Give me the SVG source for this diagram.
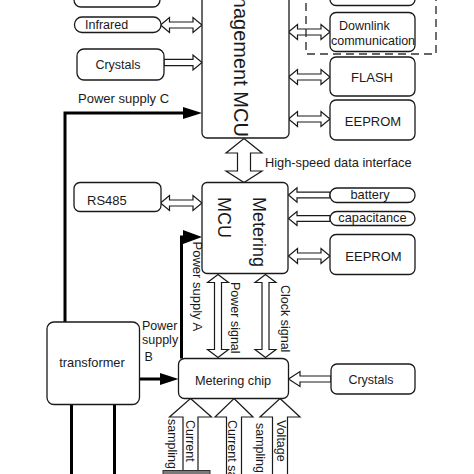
<svg xmlns="http://www.w3.org/2000/svg" xmlns:xlink="http://www.w3.org/1999/xlink" width="474" height="474" viewBox="0 0 474 474">
<style>
.box{fill:#fff;stroke:#1a1a1a;stroke-width:1.3}
.dash{fill:none;stroke:#333;stroke-width:1.4;stroke-dasharray:8 5}
.ha{fill:#fff;stroke:#1a1a1a;stroke-width:1.2;stroke-linejoin:miter}
.pw{fill:none;stroke:#000;stroke-width:3}
.pwh{fill:#000;stroke:none}
text{font-family:"Liberation Sans",Arial,sans-serif;fill:#1a1a1a;font-size:12.5px}
.m{text-anchor:middle}
</style>
<defs>
<polygon id="dbl" class="ha" points="0,0 9,-7.5 9,-3 32.5,-3 32.5,-7.5 41.5,0 32.5,7.5 32.5,3 9,3 9,7.5"/>
</defs>
<rect width="474" height="474" fill="#fff"/>

<g id="connectors">
<use xlink:href="#dbl" x="160.5" y="25"/>
<polygon class="ha" points="164,59.3 193,59.3 193,55 202,62.5 193,70 193,65.7 164,65.7"/>
<use xlink:href="#dbl" x="288.5" y="32"/>
<use xlink:href="#dbl" x="288.5" y="77"/>
<use xlink:href="#dbl" x="288.5" y="119"/>
<polygon class="ha" points="244,138.5 262,153 250.5,153 250.5,171 262,171 244,182.5 226,171 237.5,171 237.5,153 226,153"/>
<use xlink:href="#dbl" x="160.5" y="203"/>
<polygon class="ha" points="288.5,195 297,187.7 297,192.2 330,192.2 330,197.8 297,197.8 297,202.3"/>
<polygon class="ha" points="288.5,218.5 297,211.5 297,215.7 330,215.7 330,221.3 297,221.3 297,225.5"/>
<use xlink:href="#dbl" x="288.5" y="256"/>
<polygon class="ha" points="218,274.5 228.5,282.5 221.5,282.5 221.5,349.5 228.5,349.5 218,357.5 207.5,349.5 214.5,349.5 214.5,282.5 207.5,282.5"/>
<polygon class="ha" points="265.5,274.5 276,282.5 269,282.5 269,349.5 276,349.5 265.5,357.5 255,349.5 262,349.5 262,282.5 255,282.5"/>
<polygon class="ha" points="288.5,379 300,371.5 300,376 331,376 331,382 300,382 300,386.5"/>
<polygon class="ha" points="190.5,398.5 211.5,417 198,417 198,480 183,480 183,417 169.5,417"/>
<polygon class="ha" points="234,398.5 253,417 241.5,417 241.5,480 226.5,480 226.5,417 215,417"/>
<polygon class="ha" points="280,398.5 300,417 287.5,417 287.5,480 272.5,480 272.5,417 260,417"/>
<polyline class="pw" points="65,322 65,113 185,113"/>
<polygon class="pwh" points="183,107 202,113 183,119"/>
<polyline class="pw" points="181.5,358.5 181.5,237 186,237"/>
<polygon class="pwh" points="183,230 202,237 183,244"/>
<line class="pw" x1="139" y1="379" x2="162" y2="379"/>
<polygon class="pwh" points="160,373 178.5,379 160,385"/>
<line class="pw" x1="71.5" y1="404" x2="71.5" y2="480"/>
<line class="pw" x1="114.5" y1="404" x2="114.5" y2="480"/>
<rect x="163" y="470.5" width="47" height="6" fill="#7a7a7a" stroke="#333" stroke-width="1"/>
</g>

<g id="dashed-group"><rect class="dash" x="306" y="-20" width="130" height="74"/></g>

<g id="top-left-box"><rect class="box" x="74" y="-25" width="86" height="32" rx="7"/></g>
<g id="infrared"><rect class="box" x="74.5" y="17" width="86.5" height="15.5" rx="7.5"/><text x="85" y="29">Infrared</text></g>
<g id="crystals-top"><rect class="box" x="77" y="49" width="87" height="31" rx="7"/><text class="m" x="118" y="69">Crystals</text></g>

<g id="management-mcu"><rect class="box" x="202" y="-20" width="87" height="158" rx="5"/>
<text transform="translate(234,-31) rotate(90)" style="font-size:20px">Management MCU</text></g>

<g id="top-right-box"><rect class="box" x="330" y="-25" width="85" height="30.5" rx="6"/></g>
<g id="downlink"><rect class="box" x="330" y="12.5" width="85" height="39" rx="6"/>
<text x="339" y="30">Downlink</text><text x="331" y="45">communication</text></g>
<g id="flash"><rect class="box" x="330" y="57" width="85" height="39" rx="6"/><text class="m" x="372" y="82" style="font-size:13px">FLASH</text></g>
<g id="eeprom1"><rect class="box" x="330" y="100" width="85" height="40" rx="6"/><text class="m" x="373" y="125.5" style="font-size:13px">EEPROM</text></g>

<g id="power-c-label"><text x="78" y="103" style="font-size:13px">Power supply C</text></g>
<g id="hs-label"><text x="265" y="167" style="font-size:12.8px">High-speed data interface</text></g>

<g id="rs485"><rect class="box" x="74" y="182.5" width="87" height="29" rx="6"/><text x="87" y="205" style="font-size:13px">RS485</text></g>

<g id="metering-mcu"><rect class="box" x="202" y="182.5" width="86" height="91" rx="5"/>
<text transform="translate(253,197) rotate(90)" style="font-size:18px">Metering</text>
<text transform="translate(218,197) rotate(90)" style="font-size:18px">MCU</text></g>

<g id="battery"><rect class="box" x="330" y="188" width="85" height="14.5" rx="7"/><text class="m" x="370" y="198.5" style="font-size:12.8px">battery</text></g>
<g id="capacitance"><rect class="box" x="330" y="211.5" width="85" height="14" rx="7"/><text class="m" x="372.5" y="222" style="font-size:12.8px">capacitance</text></g>
<g id="eeprom2"><rect class="box" x="330" y="234.5" width="85" height="40" rx="6"/><text class="m" x="373.5" y="260.5" style="font-size:13px">EEPROM</text></g>

<g id="signal-labels">
<text transform="translate(192.5,241.5) rotate(90)" style="font-size:13px">Power supply A</text>
<text transform="translate(231,282) rotate(90)">Power signal</text>
<text transform="translate(281,285) rotate(90)">Clock signal</text>
<text x="142" y="330">Power</text>
<text x="142" y="343.5">supply</text>
<text x="144.5" y="361">B</text>
</g>

<g id="transformer"><rect class="box" x="47" y="322" width="92.5" height="82.5" rx="7"/><text class="m" x="92" y="367" style="font-size:12.8px">transformer</text></g>
<g id="metering-chip"><rect class="box" x="178.5" y="358.5" width="110" height="40" rx="6"/><text class="m" x="233" y="385" style="font-size:12.7px">Metering chip</text></g>
<g id="crystals-bottom"><rect class="box" x="331" y="364" width="84" height="30" rx="6"/><text class="m" x="371" y="384">Crystals</text></g>

<g id="sampling-labels">
<text transform="translate(185.5,420) rotate(90)">Current</text>
<text transform="translate(167.5,419) rotate(90)">sampling</text>
<text transform="translate(228,420) rotate(90)">Current sampling</text>
<text transform="translate(276.5,420) rotate(90)">Voltage</text>
<text transform="translate(255.5,423) rotate(90)">sampling</text>
</g>
</svg>
